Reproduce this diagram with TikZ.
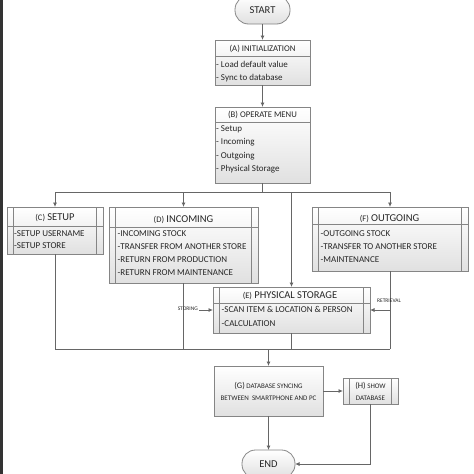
\documentclass[tikz,border=0pt]{standalone}
\usepackage{fontspec}
\setmainfont{Carlito}
\usetikzlibrary{arrows.meta}
\definecolor{ln}{HTML}{666666}
\definecolor{bd}{HTML}{858585}
\definecolor{tx}{HTML}{262626}
\newcommand{\mkttl}[2]{{\fontsize{8.5}{10}\selectfont #1} {\fontsize{10.5}{12}\selectfont #2}}
\tikzset{
 x=1pt,y=-1pt,
 box/.style={draw=bd, line width=0.8pt, top color=white, bottom color=black!12, inner sep=0pt, outer sep=0pt},
 term/.style={box, rounded corners=13.5pt, font=\fontsize{10.5}{12}\selectfont, text=tx},
 ttlA/.style={inner sep=0pt, text=tx, font=\fontsize{8.7}{10}\selectfont},
 ttl/.style={inner sep=0pt, text=tx},
 items/.style={inner sep=0pt, align=left, anchor=north west, text=tx, font=\fontsize{9}{13}\selectfont},
 sepline/.style={draw=bd, line width=0.7pt},
 conn/.style={draw=ln, line width=0.8pt},
 arr/.style={conn, -{Latex[length=4.5pt,width=4pt]}},
 tiny/.style={inner sep=0pt, text=tx, font=\fontsize{5.5}{6}\selectfont},
}
\begin{document}
\begin{tikzpicture}
\useasboundingbox (0,0) rectangle (474,474);
\fill[black!80] (0,0) rectangle (2.5,474);

% terminals
\node[term, minimum width=55pt, minimum height=28pt] (S) at (262.5,10) {START};
\node[term, minimum width=53pt, minimum height=28pt] (END) at (268.5,464) {END};

% A
\node[box, minimum width=95pt, minimum height=45pt] (A) at (262.5,62.5) {};
\draw[sepline] (A.west |- 0,56) -- (A.east |- 0,56);
\node[ttlA] (At) at (262.5,49) {(A) INITIALIZATION};
\node[items] (Ai) at (216,61.5) {- Load default value\\- Sync to database};

% B
\node[box, minimum width=95pt, minimum height=76pt] (B) at (262.5,145) {};
\draw[sepline] (B.west |- 0,122) -- (B.east |- 0,122);
\node[ttlA] (Bt) at (262.5,114.5) {(B) OPERATE MENU};
\node[items, font=\fontsize{9}{13.5}\selectfont] (Bi) at (216,125) {- Setup\\- Incoming\\- Outgoing\\- Physical Storage};

% C
\node[box, minimum width=96pt, minimum height=47pt] (C) at (55,230.5) {};
\draw[sepline] ([xshift=6.5pt]C.north west) -- ([xshift=6.5pt]C.south west);
\draw[sepline] ([xshift=-6.5pt]C.north east) -- ([xshift=-6.5pt]C.south east);
\draw[sepline] (C.west |- 0,226) -- (C.east |- 0,226);
\node[ttl] (Ct) at (55,218) {\mkttl{(C)}{SETUP}};
\node[items, font=\fontsize{9}{12.5}\selectfont] (Ci) at (14,230) {-SETUP USERNAME\\-SETUP STORE};

% D
\node[box, minimum width=149pt, minimum height=76pt] (D) at (183.5,245) {};
\draw[sepline] ([xshift=6.5pt]D.north west) -- ([xshift=6.5pt]D.south west);
\draw[sepline] ([xshift=-6.5pt]D.north east) -- ([xshift=-6.5pt]D.south east);
\draw[sepline] (D.west |- 0,227) -- (D.east |- 0,227);
\node[ttl] (Dt) at (183.5,219.5) {\mkttl{(D)}{INCOMING}};
\node[items] (Di) at (117.5,230) {-INCOMING STOCK\\-TRANSFER FROM ANOTHER STORE\\-RETURN FROM PRODUCTION\\-RETURN FROM MAINTENANCE};

% F
\node[box, minimum width=156pt, minimum height=64pt] (F) at (390,239) {};
\draw[sepline] ([xshift=6.5pt]F.north west) -- ([xshift=6.5pt]F.south west);
\draw[sepline] ([xshift=-6.5pt]F.north east) -- ([xshift=-6.5pt]F.south east);
\draw[sepline] (F.west |- 0,224) -- (F.east |- 0,224);
\node[ttl] (Ft) at (389.5,218.5) {\mkttl{(F)}{OUTGOING}};
\node[items] (Fi) at (320.5,230) {-OUTGOING STOCK\\-TRANSFER TO ANOTHER STORE\\-MAINTENANCE};

% E
\node[box, minimum width=157pt, minimum height=46pt] (E) at (291.5,310) {};
\draw[sepline] ([xshift=6.5pt]E.north west) -- ([xshift=6.5pt]E.south west);
\draw[sepline] ([xshift=-6.5pt]E.north east) -- ([xshift=-6.5pt]E.south east);
\draw[sepline] (E.west |- 0,303) -- (E.east |- 0,303);
\node[ttl] (Et) at (290,296) {\mkttl{(E)}{PHYSICAL STORAGE}};
\node[items, font=\fontsize{9}{14}\selectfont] (Ei) at (221.5,306.5) {-SCAN ITEM \& LOCATION \& PERSON\\-CALCULATION};

% G
\node[box, minimum width=109pt, minimum height=50pt, align=center, text=tx, font=\fontsize{7}{12}\selectfont] (G) at (268.5,391)
 {{\fontsize{8.5}{12}\selectfont (G)} DATABASE SYNCING\\BETWEEN\ \ SMARTPHONE AND PC};

% H
\node[box, minimum width=55pt, minimum height=26pt, align=center, text=tx, font=\fontsize{7}{12}\selectfont] (H) at (370.5,391)
 {{\fontsize{8.5}{12}\selectfont (H)} SHOW\\DATABASE};
\draw[sepline] ([xshift=6.5pt]H.north west) -- ([xshift=6.5pt]H.south west);
\draw[sepline] ([xshift=-6.5pt]H.north east) -- ([xshift=-6.5pt]H.south east);

% connectors
\draw[arr] (S) -- (A);
\draw[arr] (A) -- (B);
\coordinate (bus) at (262.5,192);
\coordinate (busC) at (55,192);
\coordinate (busD) at (183.5,192);
\coordinate (busE) at (291.5,192);
\coordinate (busF) at (390,192);
\draw[conn] (B) -- (bus);
\draw[conn] (busC) -- (busF);
\draw[arr] (busC) -- (C);
\draw[arr] (busD) -- (D);
\draw[arr] (busE) -- (E);
\draw[arr] (busF) -- (F);

\coordinate (botC) at (55,349);
\coordinate (botD) at (183.5,349);
\coordinate (botE) at (291.5,349);
\coordinate (botF) at (390,349);
\coordinate (botG) at (268.5,349);
\draw[conn] (C) -- (botC) -- (botF);
\draw[conn] (D) -- (botD);
\draw[conn] (E) -- (botE);
\draw[conn] (F) -- (botF);
\draw[arr] (botG) -- (G);

\coordinate (ret) at (390,310);
\draw[arr] (ret) -- (E);
\node[tiny] (retl) at (389,301) {RETRIEVAL};
\coordinate (sto) at (199,310);
\draw[arr] (sto) -- (E);
\node[tiny, anchor=east] (stol) at (198,309) {STORING};

\draw[arr] (G) -- (H);
\draw[arr] (G) -- (END);
\draw[arr] (H) |- (END);
\end{tikzpicture}
\end{document}
